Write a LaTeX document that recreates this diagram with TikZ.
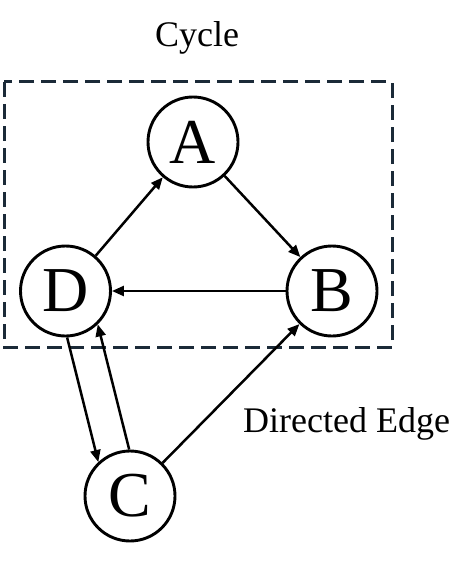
\documentclass[tikz,border=0pt]{standalone}
\usepackage{fontspec}
\setmainfont{Liberation Serif}
\usetikzlibrary{arrows.meta}
\definecolor{boxnavy}{HTML}{1B2A38}
\tikzset{
    vertex/.style={draw, circle, line width=2.9pt, minimum size=90pt, inner sep=0pt,
        font=\fontsize{64}{64}\selectfont},
    edge/.style={-{Triangle[length=12pt, width=10pt]}, line width=2.5pt},
    caption/.style={font=\fontsize{36}{36}\selectfont, inner sep=0pt}
}
\begin{document}
\begin{tikzpicture}[x=1pt, y=-1pt]
    \useasboundingbox (0,0) rectangle (474,575);
    % Cycle box
    \draw[boxnavy, line width=3pt, dash pattern=on 15pt off 7pt] (4,82) rectangle (392,347);
    \node[caption, anchor=base west] (cyc) at (155,47) {Cycle};
    \node[caption, anchor=base west] (dir) at (243,432) {Directed Edge};

    % Nodes
    \node[vertex] (A) at (193,142) {A};
    \node[vertex] (B) at (332,291) {B};
    \node[vertex] (D) at (65.5,291) {D};
    \node[vertex] (C) at (130,496) {C};

    % Edges
    \draw[edge] (D) -- (A);
    \draw[edge] (A) -- (B);
    \draw[edge] (B) -- (D);
    \draw[edge] (D.-88) -- (C.133);
    \draw[edge] (C.91) -- (D.-46);
    \draw[edge] (C) -- (B);
\end{tikzpicture}
\end{document}
